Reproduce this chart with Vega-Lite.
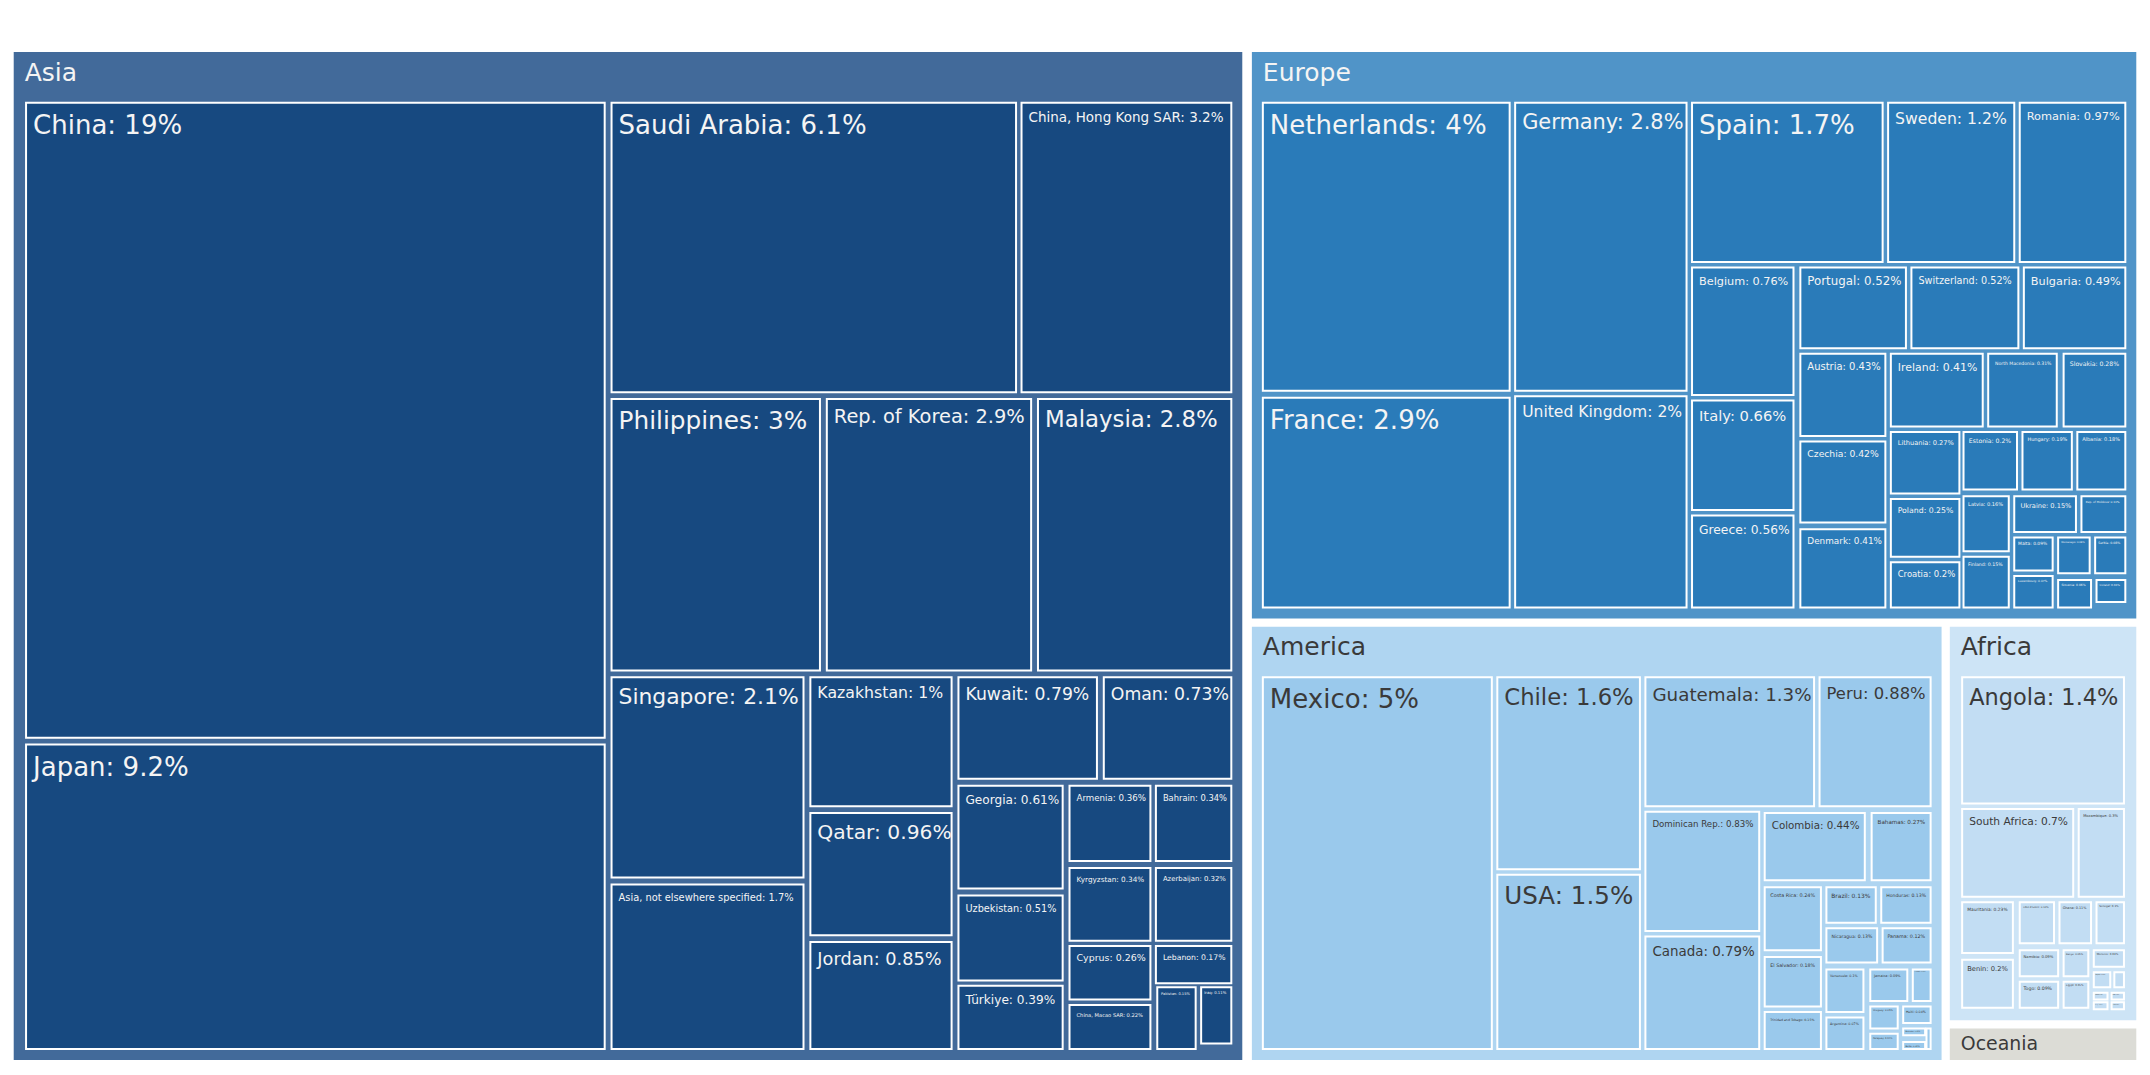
{
  "$schema": "https://vega.github.io/schema/vega-lite/v6.json",
  "width": 2150,
  "height": 1075,
  "autosize": {"type": "fit", "contains": "padding"},
  "padding": 0,
  "background": "white",
  "config": {"view": {"stroke": null}},
  "datasets": {
    "panels": [
      {"c": "Asia", "x0": 10, "x1": 906, "y0": 38, "y1": 773},
      {"c": "Europe", "x0": 913, "x1": 1558, "y0": 38, "y1": 451},
      {"c": "America", "x0": 913, "x1": 1416, "y0": 457, "y1": 773},
      {"c": "Africa", "x0": 1422, "x1": 1558, "y0": 457, "y1": 744},
      {"c": "Oceania", "x0": 1422, "x1": 1558, "y0": 750, "y1": 773}
    ],
    "cells": [
      {"c": "Asia", "n": "China", "s": 19, "x0": 19, "x1": 441, "y0": 75, "y1": 538},
      {"c": "Asia", "n": "Japan", "s": 9.2, "x0": 19, "x1": 441, "y0": 543, "y1": 765},
      {"c": "Asia", "n": "Saudi Arabia", "s": 6.1, "x0": 446, "x1": 741, "y0": 75, "y1": 286},
      {"c": "Asia", "n": "China, Hong Kong SAR", "s": 3.2, "x0": 745, "x1": 898, "y0": 75, "y1": 286},
      {"c": "Asia", "n": "Philippines", "s": 3, "x0": 446, "x1": 598, "y0": 291, "y1": 489},
      {"c": "Asia", "n": "Rep. of Korea", "s": 2.9, "x0": 603, "x1": 752, "y0": 291, "y1": 489},
      {"c": "Asia", "n": "Malaysia", "s": 2.8, "x0": 757, "x1": 898, "y0": 291, "y1": 489},
      {"c": "Asia", "n": "Singapore", "s": 2.1, "x0": 446, "x1": 586, "y0": 494, "y1": 640},
      {"c": "Asia", "n": "Asia, not elsewhere specified", "s": 1.7, "x0": 446, "x1": 586, "y0": 645, "y1": 765},
      {"c": "Asia", "n": "Kazakhstan", "s": 1, "x0": 591, "x1": 694, "y0": 494, "y1": 588},
      {"c": "Asia", "n": "Qatar", "s": 0.96, "x0": 591, "x1": 694, "y0": 593, "y1": 682},
      {"c": "Asia", "n": "Jordan", "s": 0.85, "x0": 591, "x1": 694, "y0": 687, "y1": 765},
      {"c": "Asia", "n": "Kuwait", "s": 0.79, "x0": 699, "x1": 800, "y0": 494, "y1": 568},
      {"c": "Asia", "n": "Oman", "s": 0.73, "x0": 805, "x1": 898, "y0": 494, "y1": 568},
      {"c": "Asia", "n": "Georgia", "s": 0.61, "x0": 699, "x1": 775, "y0": 573, "y1": 648},
      {"c": "Asia", "n": "Uzbekistan", "s": 0.51, "x0": 699, "x1": 775, "y0": 653, "y1": 715},
      {"c": "Asia", "n": "Türkiye", "s": 0.39, "x0": 699, "x1": 775, "y0": 719, "y1": 765},
      {"c": "Asia", "n": "Armenia", "s": 0.36, "x0": 780, "x1": 839, "y0": 573, "y1": 628},
      {"c": "Asia", "n": "Bahrain", "s": 0.34, "x0": 843, "x1": 898, "y0": 573, "y1": 628},
      {"c": "Asia", "n": "Kyrgyzstan", "s": 0.34, "x0": 780, "x1": 839, "y0": 633, "y1": 686},
      {"c": "Asia", "n": "Azerbaijan", "s": 0.32, "x0": 843, "x1": 898, "y0": 633, "y1": 686},
      {"c": "Asia", "n": "Cyprus", "s": 0.26, "x0": 780, "x1": 839, "y0": 690, "y1": 729},
      {"c": "Asia", "n": "China, Macao SAR", "s": 0.22, "x0": 780, "x1": 839, "y0": 733, "y1": 765},
      {"c": "Asia", "n": "Lebanon", "s": 0.17, "x0": 843, "x1": 898, "y0": 690, "y1": 717},
      {"c": "Asia", "n": "Pakistan", "s": 0.15, "x0": 844, "x1": 872, "y0": 720, "y1": 765},
      {"c": "Asia", "n": "Iraq", "s": 0.11, "x0": 876, "x1": 898, "y0": 720, "y1": 761},
      {"c": "Europe", "n": "Netherlands", "s": 4, "x0": 921, "x1": 1101, "y0": 75, "y1": 285},
      {"c": "Europe", "n": "France", "s": 2.9, "x0": 921, "x1": 1101, "y0": 290, "y1": 443},
      {"c": "Europe", "n": "Germany", "s": 2.8, "x0": 1105, "x1": 1230, "y0": 75, "y1": 285},
      {"c": "Europe", "n": "United Kingdom", "s": 2, "x0": 1105, "x1": 1230, "y0": 289, "y1": 443},
      {"c": "Europe", "n": "Spain", "s": 1.7, "x0": 1234, "x1": 1373, "y0": 75, "y1": 191},
      {"c": "Europe", "n": "Sweden", "s": 1.2, "x0": 1377, "x1": 1469, "y0": 75, "y1": 191},
      {"c": "Europe", "n": "Romania", "s": 0.97, "x0": 1473, "x1": 1550, "y0": 75, "y1": 191},
      {"c": "Europe", "n": "Belgium", "s": 0.76, "x0": 1234, "x1": 1308, "y0": 195, "y1": 288},
      {"c": "Europe", "n": "Italy", "s": 0.66, "x0": 1234, "x1": 1308, "y0": 292, "y1": 372},
      {"c": "Europe", "n": "Greece", "s": 0.56, "x0": 1234, "x1": 1308, "y0": 376, "y1": 443},
      {"c": "Europe", "n": "Portugal", "s": 0.52, "x0": 1313, "x1": 1390, "y0": 195, "y1": 254},
      {"c": "Europe", "n": "Switzerland", "s": 0.52, "x0": 1394, "x1": 1472, "y0": 195, "y1": 254},
      {"c": "Europe", "n": "Bulgaria", "s": 0.49, "x0": 1476, "x1": 1550, "y0": 195, "y1": 254},
      {"c": "Europe", "n": "Austria", "s": 0.43, "x0": 1313, "x1": 1375, "y0": 258, "y1": 318},
      {"c": "Europe", "n": "Czechia", "s": 0.42, "x0": 1313, "x1": 1375, "y0": 322, "y1": 381},
      {"c": "Europe", "n": "Denmark", "s": 0.41, "x0": 1313, "x1": 1375, "y0": 386, "y1": 443},
      {"c": "Europe", "n": "Ireland", "s": 0.41, "x0": 1379, "x1": 1446, "y0": 258, "y1": 311},
      {"c": "Europe", "n": "North Macedonia", "s": 0.31, "x0": 1450, "x1": 1500, "y0": 258, "y1": 311},
      {"c": "Europe", "n": "Slovakia", "s": 0.28, "x0": 1505, "x1": 1550, "y0": 258, "y1": 311},
      {"c": "Europe", "n": "Lithuania", "s": 0.27, "x0": 1379, "x1": 1429, "y0": 315, "y1": 360},
      {"c": "Europe", "n": "Estonia", "s": 0.2, "x0": 1432, "x1": 1471, "y0": 315, "y1": 357},
      {"c": "Europe", "n": "Hungary", "s": 0.19, "x0": 1475, "x1": 1511, "y0": 315, "y1": 357},
      {"c": "Europe", "n": "Albania", "s": 0.18, "x0": 1515, "x1": 1550, "y0": 315, "y1": 357},
      {"c": "Europe", "n": "Poland", "s": 0.25, "x0": 1379, "x1": 1429, "y0": 364, "y1": 406},
      {"c": "Europe", "n": "Croatia", "s": 0.2, "x0": 1379, "x1": 1429, "y0": 410, "y1": 443},
      {"c": "Europe", "n": "Latvia", "s": 0.16, "x0": 1432, "x1": 1465, "y0": 362, "y1": 402},
      {"c": "Europe", "n": "Finland", "s": 0.15, "x0": 1432, "x1": 1465, "y0": 406, "y1": 443},
      {"c": "Europe", "n": "Ukraine", "s": 0.15, "x0": 1469, "x1": 1514, "y0": 362, "y1": 388},
      {"c": "Europe", "n": "Rep. of Moldova", "s": 0.11, "x0": 1518, "x1": 1550, "y0": 362, "y1": 388},
      {"c": "Europe", "n": "Malta", "s": 0.09, "x0": 1469, "x1": 1497, "y0": 392, "y1": 416},
      {"c": "Europe", "n": "Montenegro", "s": 0.08, "x0": 1501, "x1": 1524, "y0": 392, "y1": 418},
      {"c": "Europe", "n": "Serbia", "s": 0.08, "x0": 1528, "x1": 1550, "y0": 392, "y1": 418},
      {"c": "Europe", "n": "Luxembourg", "s": 0.07, "x0": 1469, "x1": 1497, "y0": 420, "y1": 443},
      {"c": "Europe", "n": "Slovenia", "s": 0.06, "x0": 1501, "x1": 1525, "y0": 423, "y1": 443},
      {"c": "Europe", "n": "Iceland", "s": 0.04, "x0": 1529, "x1": 1550, "y0": 423, "y1": 439},
      {"c": "America", "n": "Mexico", "s": 5, "x0": 921, "x1": 1088, "y0": 494, "y1": 765},
      {"c": "America", "n": "Chile", "s": 1.6, "x0": 1092, "x1": 1196, "y0": 494, "y1": 634},
      {"c": "America", "n": "USA", "s": 1.5, "x0": 1092, "x1": 1196, "y0": 638, "y1": 765},
      {"c": "America", "n": "Guatemala", "s": 1.3, "x0": 1200, "x1": 1323, "y0": 494, "y1": 588},
      {"c": "America", "n": "Peru", "s": 0.88, "x0": 1327, "x1": 1408, "y0": 494, "y1": 588},
      {"c": "America", "n": "Dominican Rep.", "s": 0.83, "x0": 1200, "x1": 1283, "y0": 592, "y1": 679},
      {"c": "America", "n": "Canada", "s": 0.79, "x0": 1200, "x1": 1283, "y0": 683, "y1": 765},
      {"c": "America", "n": "Colombia", "s": 0.44, "x0": 1287, "x1": 1360, "y0": 593, "y1": 642},
      {"c": "America", "n": "Bahamas", "s": 0.27, "x0": 1365, "x1": 1408, "y0": 593, "y1": 642},
      {"c": "America", "n": "Costa Rica", "s": 0.24, "x0": 1287, "x1": 1328, "y0": 647, "y1": 693},
      {"c": "America", "n": "El Salvador", "s": 0.18, "x0": 1287, "x1": 1328, "y0": 698, "y1": 734},
      {"c": "America", "n": "Trinidad and Tobago", "s": 0.15, "x0": 1287, "x1": 1328, "y0": 738, "y1": 765},
      {"c": "America", "n": "Brazil", "s": 0.13, "x0": 1332, "x1": 1368, "y0": 647, "y1": 673},
      {"c": "America", "n": "Honduras", "s": 0.13, "x0": 1372, "x1": 1408, "y0": 647, "y1": 673},
      {"c": "America", "n": "Nicaragua", "s": 0.13, "x0": 1332, "x1": 1369, "y0": 677, "y1": 702},
      {"c": "America", "n": "Panama", "s": 0.12, "x0": 1373, "x1": 1408, "y0": 677, "y1": 702},
      {"c": "America", "n": "Venezuela", "s": 0.1, "x0": 1332, "x1": 1359, "y0": 707, "y1": 738},
      {"c": "America", "n": "Jamaica", "s": 0.09, "x0": 1364, "x1": 1391, "y0": 707, "y1": 730},
      {"c": "America", "n": "Ecuador", "s": 0.05, "x0": 1395, "x1": 1408, "y0": 707, "y1": 730},
      {"c": "America", "n": "Argentina", "s": 0.07, "x0": 1332, "x1": 1359, "y0": 742, "y1": 765},
      {"c": "America", "n": "Uruguay", "s": 0.05, "x0": 1364, "x1": 1384, "y0": 734, "y1": 750},
      {"c": "America", "n": "Haiti", "s": 0.04, "x0": 1388, "x1": 1408, "y0": 734, "y1": 746},
      {"c": "America", "n": "Paraguay", "s": 0.04, "x0": 1364, "x1": 1384, "y0": 754, "y1": 765},
      {"c": "America", "n": "Barbados", "s": 0.02, "x0": 1388, "x1": 1404, "y0": 750, "y1": 755},
      {"c": "America", "n": "Belize", "s": 0.02, "x0": 1388, "x1": 1404, "y0": 760, "y1": 765},
      {"c": "America", "n": "Guyana", "s": 0.01, "x0": 1405, "x1": 1408, "y0": 750, "y1": 765},
      {"c": "Africa", "n": "Angola", "s": 1.4, "x0": 1431, "x1": 1549, "y0": 494, "y1": 586},
      {"c": "Africa", "n": "South Africa", "s": 0.7, "x0": 1431, "x1": 1512, "y0": 590, "y1": 654},
      {"c": "Africa", "n": "Mozambique", "s": 0.3, "x0": 1516, "x1": 1549, "y0": 590, "y1": 654},
      {"c": "Africa", "n": "Mauritania", "s": 0.23, "x0": 1431, "x1": 1468, "y0": 658, "y1": 695},
      {"c": "Africa", "n": "Benin", "s": 0.2, "x0": 1431, "x1": 1468, "y0": 700, "y1": 735},
      {"c": "Africa", "n": "Côte d'Ivoire", "s": 0.12, "x0": 1473, "x1": 1498, "y0": 658, "y1": 688},
      {"c": "Africa", "n": "Ghana", "s": 0.11, "x0": 1502, "x1": 1525, "y0": 658, "y1": 688},
      {"c": "Africa", "n": "Senegal", "s": 0.1, "x0": 1529, "x1": 1549, "y0": 658, "y1": 688},
      {"c": "Africa", "n": "Namibia", "s": 0.09, "x0": 1473, "x1": 1501, "y0": 693, "y1": 712},
      {"c": "Africa", "n": "Togo", "s": 0.09, "x0": 1473, "x1": 1501, "y0": 716, "y1": 735},
      {"c": "Africa", "n": "Kenya", "s": 0.05, "x0": 1505, "x1": 1523, "y0": 693, "y1": 712},
      {"c": "Africa", "n": "Egypt", "s": 0.05, "x0": 1505, "x1": 1523, "y0": 716, "y1": 735},
      {"c": "Africa", "n": "Morocco", "s": 0.04, "x0": 1527, "x1": 1549, "y0": 693, "y1": 705},
      {"c": "Africa", "n": "Nigeria", "s": 0.02, "x0": 1527, "x1": 1539, "y0": 709, "y1": 720},
      {"c": "Africa", "n": "Tunisia", "s": 0.01, "x0": 1542, "x1": 1549, "y0": 709, "y1": 720},
      {"c": "Africa", "n": "Cameroon", "s": 0.01, "x0": 1527, "x1": 1537, "y0": 724, "y1": 729},
      {"c": "Africa", "n": "Gabon", "s": 0.01, "x0": 1540, "x1": 1549, "y0": 724, "y1": 729},
      {"c": "Africa", "n": "Congo", "s": 0.01, "x0": 1527, "x1": 1537, "y0": 731, "y1": 736},
      {"c": "Africa", "n": "Algeria", "s": 0.01, "x0": 1540, "x1": 1549, "y0": 731, "y1": 736}
    ]
  },
  "layer": [
    {
      "data": {"name": "panels"},
      "mark": {"type": "rect"},
      "encoding": {
        "x": {"field": "x0", "type": "quantitative", "scale": {"domain": [0, 1568], "nice": false, "zero": false}, "axis": null},
        "x2": {"field": "x1"},
        "y": {"field": "y0", "type": "quantitative", "scale": {"domain": [0, 784], "nice": false, "zero": false, "reverse": true}, "axis": null},
        "y2": {"field": "y1"},
        "fill": {"field": "c", "type": "nominal", "legend": null,
          "scale": {"domain": ["Asia", "Europe", "America", "Africa", "Oceania"], "range": ["#426a9a", "#5094c8", "#afd5f1", "#cde4f6", "#dcdcd6"]}}
      }
    },
    {
      "data": {"name": "cells"},
      "mark": {"type": "rect", "stroke": "white", "strokeWidth": 2},
      "encoding": {
        "x": {"field": "x0", "type": "quantitative", "scale": {"domain": [0, 1568], "nice": false, "zero": false}, "axis": null},
        "x2": {"field": "x1"},
        "y": {"field": "y0", "type": "quantitative", "scale": {"domain": [0, 784], "nice": false, "zero": false, "reverse": true}, "axis": null},
        "y2": {"field": "y1"},
        "color": {"field": "c", "type": "nominal", "legend": null,
          "scale": {"domain": ["Asia", "Europe", "America", "Africa"], "range": ["#174980", "#2a7bb9", "#9ac9ec", "#c2ddf3"]}}
      }
    },
    {
      "data": {"name": "cells"},
      "transform": [
        {"calculate": "datum.n + ': ' + datum.s + '%'", "as": "label"},
        {"calculate": "length(datum.label) - length(replace(datum.label, regexp('[iljtfrI.:,\\' ()]', 'g'), ''))", "as": "nNarrow"},
        {"calculate": "length(datum.label) - length(replace(datum.label, regexp('[mwMW%]', 'g'), ''))", "as": "nWide"},
        {"calculate": "length(datum.label) - length(replace(datum.label, regexp('[A-Z]', 'g'), ''))", "as": "nUpper"},
        {"calculate": "0.62 * length(datum.label) - 0.3 * datum.nNarrow + 0.33 * datum.nWide + 0.1 * datum.nUpper", "as": "em"},
        {"calculate": "(datum.x1 - datum.x0) * 1.3712", "as": "wf"},
        {"calculate": "(datum.y1 - datum.y0) * 1.3712", "as": "hf"},
        {"calculate": "min(7, datum.wf * 0.1)", "as": "pad"},
        {"calculate": "max(0.5, min(26, (datum.wf - datum.pad - 5) / datum.em, datum.hf * 0.45))", "as": "fs"},
        {"calculate": "datum.x0 + datum.pad / 1.3712", "as": "lx"},
        {"calculate": "datum.y0 + (datum.pad + 0.12 * datum.fs) / 1.3712", "as": "ly"}
      ],
      "mark": {"type": "text", "align": "left", "baseline": "top", "font": "DejaVu Sans"},
      "encoding": {
        "x": {"field": "lx", "type": "quantitative", "scale": {"domain": [0, 1568], "nice": false, "zero": false}, "axis": null},
        "y": {"field": "ly", "type": "quantitative", "scale": {"domain": [0, 784], "nice": false, "zero": false, "reverse": true}, "axis": null},
        "text": {"field": "label"},
        "size": {"field": "fs", "type": "quantitative", "scale": null},
        "color": {"condition": {"test": "datum.c == 'Asia' || datum.c == 'Europe'", "value": "#f4f4f4"}, "value": "#3a3a3a"}
      }
    },
    {
      "data": {"name": "panels"},
      "transform": [
        {"calculate": "min(25, (datum.y1 - datum.y0) * 1.3712 * 0.6)", "as": "fs"},
        {"calculate": "datum.x0 + 8", "as": "lx"},
        {"calculate": "datum.y0 + min(15, (datum.y1 - datum.y0) / 2)", "as": "ly"}
      ],
      "mark": {"type": "text", "align": "left", "baseline": "middle", "font": "DejaVu Sans"},
      "encoding": {
        "x": {"field": "lx", "type": "quantitative", "scale": {"domain": [0, 1568], "nice": false, "zero": false}, "axis": null},
        "y": {"field": "ly", "type": "quantitative", "scale": {"domain": [0, 784], "nice": false, "zero": false, "reverse": true}, "axis": null},
        "text": {"field": "c"},
        "size": {"field": "fs", "type": "quantitative", "scale": null},
        "color": {"condition": {"test": "datum.c == 'Asia' || datum.c == 'Europe'", "value": "#f4f4f4"}, "value": "#3a3a3a"}
      }
    }
  ]
}
